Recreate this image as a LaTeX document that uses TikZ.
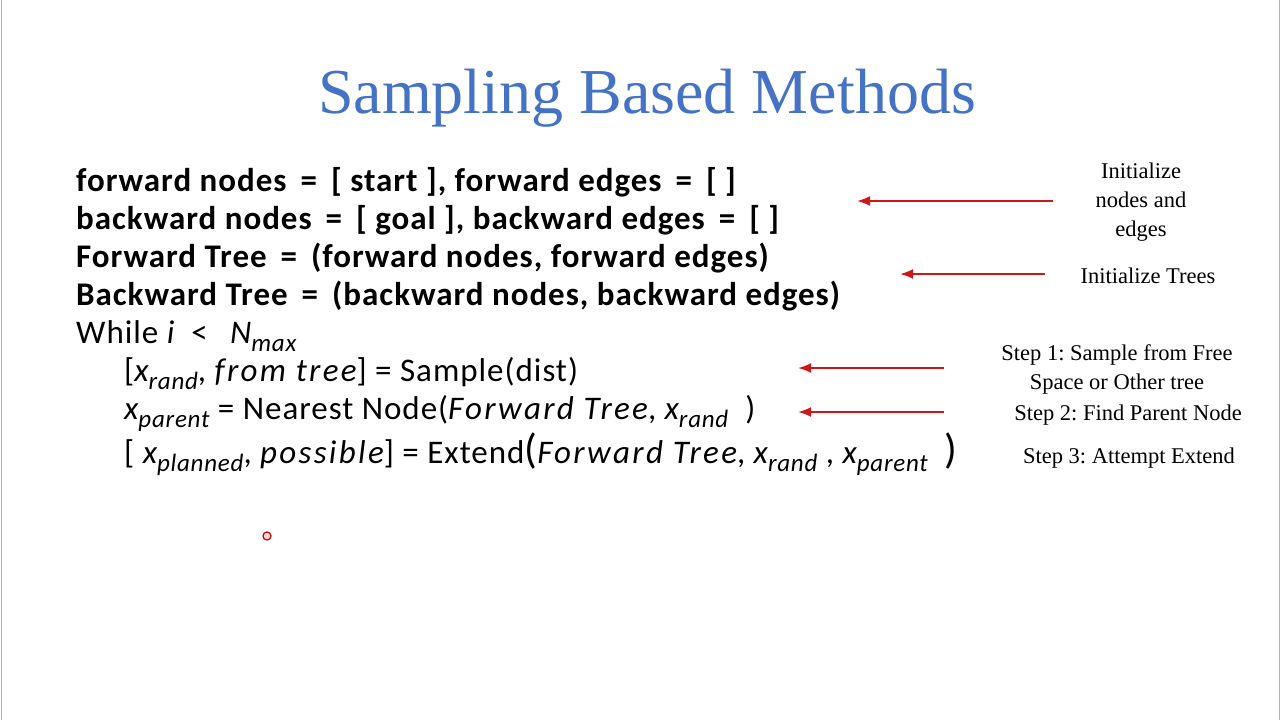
\documentclass[tikz,border=0pt]{standalone}
\usepackage{fontspec}
\setmainfont{Carlito}[LetterSpace=3]
\newfontfamily\tms{Liberation Serif}
\usetikzlibrary{arrows.meta}
\frenchspacing
\newcommand{\sbx}[1]{\raisebox{-0.25em}{\fontsize{25}{25}\selectfont\itshape #1}}
\newcommand{\iv}[1]{{\itshape\addfontfeature{LetterSpace=7} #1}}
\newcommand{\eqs}{\hspace{14pt}=\hspace{14pt}}
\begin{document}
\begin{tikzpicture}[x=1pt,y=-1pt,
  body/.style={anchor=base west,inner sep=0pt,font=\fontsize{33}{33}\selectfont},
  lab/.style={align=center,inner sep=0pt,font=\tms\fontsize{22.5}{29}\selectfont},
  arr/.style={draw={rgb,255:red,204;green,24;blue,24},line width=2pt,-{Latex[length=13pt,width=10pt]}}]
\useasboundingbox (0,0) rectangle (1280,720);
\fill[white] (0,0) rectangle (1280,720);
\draw[gray!60,line width=0.8pt] (1,0)--(1,720) (1279,0)--(1279,720);
\definecolor{tblue}{RGB}{68,114,196}
\node[inner sep=0pt,text=tblue,font=\tms\fontsize{64}{64}\selectfont] (title) at (647,98) {Sampling Based Methods};
\node[body] (l1) at (76,191) {\bfseries forward nodes\eqs[ start ], forward edges\eqs[ ]};
\node[body] (l2) at (76,229) {\bfseries backward nodes\eqs[ goal ], backward edges\eqs[ ]};
\node[body] (l3) at (76,267) {\bfseries Forward Tree\eqs(forward nodes, forward edges)};
\node[body] (l4) at (76,305) {\bfseries Backward Tree\eqs(backward nodes, backward edges)};
\node[body] (l5) at (76,343) {While \iv{i} \ <\ \, \iv{N}\sbx{max}};
\node[body] (l6) at (124,381) {[\iv{x}\sbx{rand}, \iv{from tree}] = Sample(dist)};
\node[body] (l7) at (124,419) {\iv{x}\sbx{parent} = Nearest Node(\iv{Forward Tree}, \iv{x}\sbx{rand} \ )};
\node[body] (l8) at (124,463) {[ \iv{x}\sbx{planned}, \iv{possible}] = Extend{\fontsize{42}{42}\selectfont(}\iv{Forward Tree}, \iv{x}\sbx{rand} , \iv{x}\sbx{parent} \ {\fontsize{42}{42}\selectfont)}};
\node[lab] (r1) at (1141,202) {Initialize\\nodes and\\edges};
\node[lab] (r2) at (1148,276) {Initialize Trees};
\node[lab] (r3) at (1117,369) {Step 1: Sample from Free\\Space or Other tree};
\node[lab] (r4) at (1128,415) {Step 2: Find Parent Node};
\node[lab] (r5) at (1129,458) {Step 3: Attempt Extend};
\coordinate (a1s) at (1053,201); \coordinate (a1e) at (857,201);
\coordinate (a2s) at (1045,274); \coordinate (a2e) at (900,274);
\coordinate (a3s) at (944,368); \coordinate (a3e) at (798,368);
\coordinate (a4s) at (944,412); \coordinate (a4e) at (798,412);
\draw[arr] (a1s)--(a1e);
\draw[arr] (a2s)--(a2e);
\draw[arr] (a3s)--(a3e);
\draw[arr] (a4s)--(a4e);
\node[circle,draw=red!80!black,line width=1.2pt,minimum size=8pt,inner sep=0pt,fill=red!15] (dot) at (267,536) {};
\end{tikzpicture}
\end{document}
